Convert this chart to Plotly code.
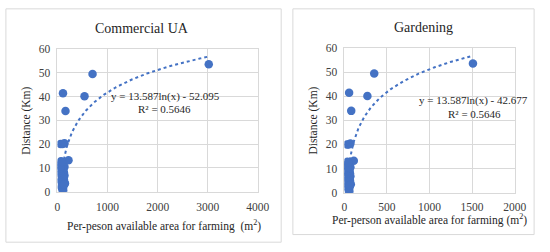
import plotly.graph_objects as go
import numpy as np

# ---- data ----
com_x = [3020, 700, 540, 110, 160, 60, 100, 140, 220,
         70, 80, 75, 100, 140, 90, 120, 70, 110, 80, 130, 100, 75, 140, 95, 120,
         85, 130, 70, 100, 150, 90, 120, 80, 110, 100, 115, 105, 130, 65, 90]
com_y = [53.5, 49.4, 40.1, 41.4, 33.9, 20.0, 20.0, 20.4, 13.2,
         12.8, 12.0, 11.0, 10.8, 10.5, 10.0, 9.5, 9.0, 8.8, 8.0, 8.0, 7.5, 7.0, 6.8, 6.5, 6.0,
         5.5, 5.0, 4.5, 4.0, 3.5, 3.0, 2.5, 2.0, 1.5, 1.0, 0.5, 0.0, 3.0, 10.5, 12.5]
gar_x = [1510, 350, 270, 55, 80, 30, 50, 70, 110,
         35, 40, 38, 50, 70, 45, 60, 35, 55, 40, 65, 50, 38, 70, 48, 60,
         43, 65, 35, 50, 75, 45, 60, 40, 55, 50, 58, 53, 65, 33, 45]
gar_y = com_y[:]

# trendline coefficients shown on the chart: y = a ln(x) + b
com_a, com_b = 13.587, -52.095
gar_a, gar_b = 13.587, -42.677

com_x_ticks = [0, 1000, 2000, 3000, 4000]
gar_x_ticks = [0, 500, 1000, 1500, 2000]
y_ticks = [0, 10, 20, 30, 40, 50, 60]

BLUE = "#4472C4"
GRID = "#d9d9d9"
FONT = "Liberation Serif"
W, H = 550, 252


def px(x):
    return x / W


def py(y):
    return 1 - y / H


fig = go.Figure()

for xs, ys, a, b, ax in [(com_x, com_y, com_a, com_b, ""), (gar_x, gar_y, gar_a, gar_b, "2")]:
    tx = np.linspace(min(xs), max(xs), 300)
    ty = a * np.log(tx) + b
    fig.add_trace(go.Scatter(x=tx, y=ty, mode="lines",
                             line=dict(color=BLUE, width=2, dash="dot"),
                             xaxis="x" + ax, yaxis="y" + ax, hoverinfo="skip"))
    fig.add_trace(go.Scatter(x=xs, y=ys, mode="markers",
                             marker=dict(color=BLUE, size=8.5),
                             xaxis="x" + ax, yaxis="y" + ax))

axis_common = dict(showgrid=True, gridcolor=GRID, gridwidth=1, zeroline=False,
                   showline=True, linecolor=GRID, mirror=True, ticks="",
                   tickfont=dict(family=FONT, size=11.5, color="#404040"))

fig.update_layout(
    width=W, height=H, margin=dict(l=0, r=0, t=0, b=0),
    paper_bgcolor="white", plot_bgcolor="white", showlegend=False,
    xaxis=dict(domain=[px(56), px(262)], range=[0, 4000], tickvals=com_x_ticks,
               anchor="y", **axis_common),
    yaxis=dict(domain=[py(195), py(45)], range=[0, 60], tickvals=y_ticks,
               anchor="x", **axis_common),
    xaxis2=dict(domain=[px(351), px(526)], range=[0, 2000], tickvals=gar_x_ticks,
                anchor="y2", **axis_common),
    yaxis2=dict(domain=[py(196), py(44)], range=[0, 60], tickvals=y_ticks,
                anchor="x2", **axis_common),
)

fig.update_xaxes(ticklabelstandoff=4)
fig.update_yaxes(ticklabelstandoff=4)

# panel borders
fig.add_shape(type="rect", xref="paper", yref="paper",
              x0=px(3), x1=px(286), y0=py(248), y1=py(3),
              line=dict(color=GRID, width=1))
fig.add_shape(type="rect", xref="paper", yref="paper",
              x0=px(298), x1=px(546), y0=py(240), y1=py(3),
              line=dict(color=GRID, width=1))

TXT = "#262626"


def ann(text, x, y, size, angle=0):
    fig.add_annotation(text=text, x=px(x), y=py(y), xref="paper", yref="paper",
                       showarrow=False, textangle=angle, xanchor="center", yanchor="middle",
                       font=dict(family=FONT, size=size, color=TXT))


ann("Commercial UA", 143, 24, 14)
ann("Gardening", 432, 23, 14)
ann("Distance (Km)", 24, 120, 11.5, -90)
ann("Distance (Km)", 319, 120, 11.5, -90)
ann("Per-peson available area for farming  (m<sup>2</sup>)", 165, 230, 11.5)
ann("Per-person available area for farming (m<sup>2</sup>)", 438, 224, 11.5)
ann(f"y = {com_a}ln(x) - {abs(com_b):.3f}", 167, 95, 11)
ann("R² = 0.5646", 166, 108, 11)
ann(f"y = {gar_a}ln(x) - {abs(gar_b):.3f}", 484, 99, 11)
ann("R² = 0.5646", 485, 113, 11)

fig.write_html("out.html", config={"displayModeBar": False},
               post_script="document.body.style.margin='0';")
